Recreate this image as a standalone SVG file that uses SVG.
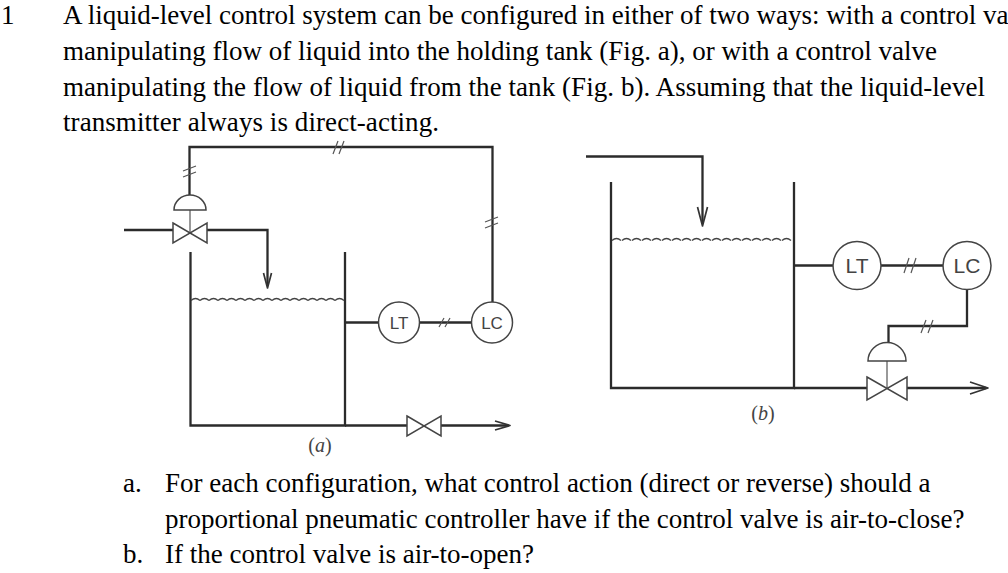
<svg xmlns="http://www.w3.org/2000/svg" width="1008" height="573" viewBox="0 0 1008 573">
<style>
.t{font-family:"Liberation Serif","Times New Roman",serif;font-size:27px;fill:#000}
.p{fill:none;stroke:#2b2b2b;stroke-width:2.300}
.h{fill:none;stroke:#333;stroke-width:1.700;stroke-linejoin:round}
.s{fill:#fff;stroke:#444;stroke-width:1.500}
.th{fill:none;stroke:#555;stroke-width:1.200}
.w{fill:none;stroke:#444;stroke-width:1.200}
.i{font-family:"Liberation Sans",Arial,sans-serif;font-size:17px;fill:#444;text-anchor:middle}
.ib{font-size:21px}
.c{font-family:"Liberation Serif","Times New Roman",serif;font-size:20px;fill:#444;text-anchor:middle}
</style>
<defs>
<path id="wave" class="w" d="M0 0q4.500 -4 9 0"/>
</defs>
<g id="question-text">
<text class="t" x="1" y="24">1</text>
<text class="t" x="63" y="24">A liquid-level control system can be configured in either of two ways: with a control va</text>
<text class="t" x="63" y="60" textLength="874">manipulating flow of liquid into the holding tank (Fig. a), or with a control valve</text>
<text class="t" x="63" y="96" textLength="922">manipulating the flow of liquid from the tank (Fig. b). Assuming that the liquid-level</text>
<text class="t" x="63" y="131" textLength="376">transmitter always is direct-acting.</text>
<text class="t" x="123" y="492">a.</text>
<text class="t" x="165" y="492">For each configuration, what control action (direct or reverse) should a</text>
<text class="t" x="165" y="528">proportional pneumatic controller have if the control valve is air-to-close?</text>
<text class="t" x="123" y="563">b.</text>
<text class="t" x="165" y="563">If the control valve is air-to-open?</text>
</g>
<g id="connectors">
<path class="p" d="M189.500 195V147H492.500V302"/>
<path class="p" d="M124 230H173M207 230H267.500V286"/>
<path class="h" d="M263.500 273L267.500 288L271.500 273"/>
<path class="p" d="M345 322.500H378M420 322.500H472"/>
<path class="p" d="M345 425.500H407M441 425.500H508"/>
<path class="h" d="M495 421L510 425.500L495 430"/>
<path class="p" d="M586 156.500H702.500V224"/>
<path class="h" d="M697.500 207L702.500 226L707.500 207"/>
<path class="p" d="M794 265.500H833M881 265.500H943"/>
<path class="p" d="M967 290V326H888.500V343"/>
<path class="p" d="M794 388H867M907 388H986"/>
<path class="h" d="M970 382L988 388L970 394"/>
<path class="th" d="M183 171L196 166M183 177L196 172M333 154L338 141M339 154L344 141M485 222L498 217M485 228L498 223M439 327L444 318M445 327L450 318M904 273L909 258M911 273L916 258M921 333L926 320M928 333L933 320"/>
</g>
<g id="tank-a">
<path class="p" d="M190.500 252V425.500H345V252"/>
<g transform="translate(191 300.500)"><use href="#wave"/><use href="#wave" x="9"/><use href="#wave" x="18"/><use href="#wave" x="27"/><use href="#wave" x="36"/><use href="#wave" x="45"/><use href="#wave" x="54"/><use href="#wave" x="63"/><use href="#wave" x="72"/><use href="#wave" x="81"/><use href="#wave" x="90"/><use href="#wave" x="99"/><use href="#wave" x="108"/><use href="#wave" x="117"/><use href="#wave" x="126"/><use href="#wave" x="135"/><use href="#wave" x="144"/></g>
</g>
<g id="valve-a-top">
<path class="th" d="M190 210V233"/>
<path class="s" d="M174 210A16 15 0 0 1 206 210Z"/>
<path class="s" d="M173 223L207 243V223L173 243Z"/>
</g>
<g id="valve-a-outlet"><path class="s" d="M407 416L441 436V416L407 436Z"/></g>
<g id="lt-a"><circle class="s" cx="399" cy="322.500" r="20.500"/><text class="i" x="399" y="329">LT</text></g>
<g id="lc-a"><circle class="s" cx="492" cy="322.500" r="20.500"/><text class="i" x="492" y="329">LC</text></g>
<g id="tank-b">
<path class="p" d="M611 182V388H794V182"/>
<g transform="translate(612 240.500)"><use href="#wave"/><use href="#wave" x="10"/><use href="#wave" x="20"/><use href="#wave" x="30"/><use href="#wave" x="40"/><use href="#wave" x="50"/><use href="#wave" x="60"/><use href="#wave" x="70"/><use href="#wave" x="80"/><use href="#wave" x="90"/><use href="#wave" x="100"/><use href="#wave" x="110"/><use href="#wave" x="120"/><use href="#wave" x="130"/><use href="#wave" x="140"/><use href="#wave" x="150"/><use href="#wave" x="160"/><use href="#wave" x="170"/></g>
</g>
<g id="valve-b">
<path class="th" d="M887 361V388"/>
<path class="s" d="M868 361A19 18.500 0 0 1 906 361Z"/>
<path class="s" d="M867 377L907 400V377L867 400Z"/>
</g>
<g id="lt-b"><circle class="s" cx="857" cy="265.500" r="24"/><text class="i ib" x="857" y="273">LT</text></g>
<g id="lc-b"><circle class="s" cx="967" cy="265.500" r="24"/><text class="i ib" x="967" y="273">LC</text></g>
<text class="c" x="320" y="452">(<tspan font-style="italic">a</tspan>)</text>
<text class="c" x="763" y="420">(<tspan font-style="italic">b</tspan>)</text>
</svg>
